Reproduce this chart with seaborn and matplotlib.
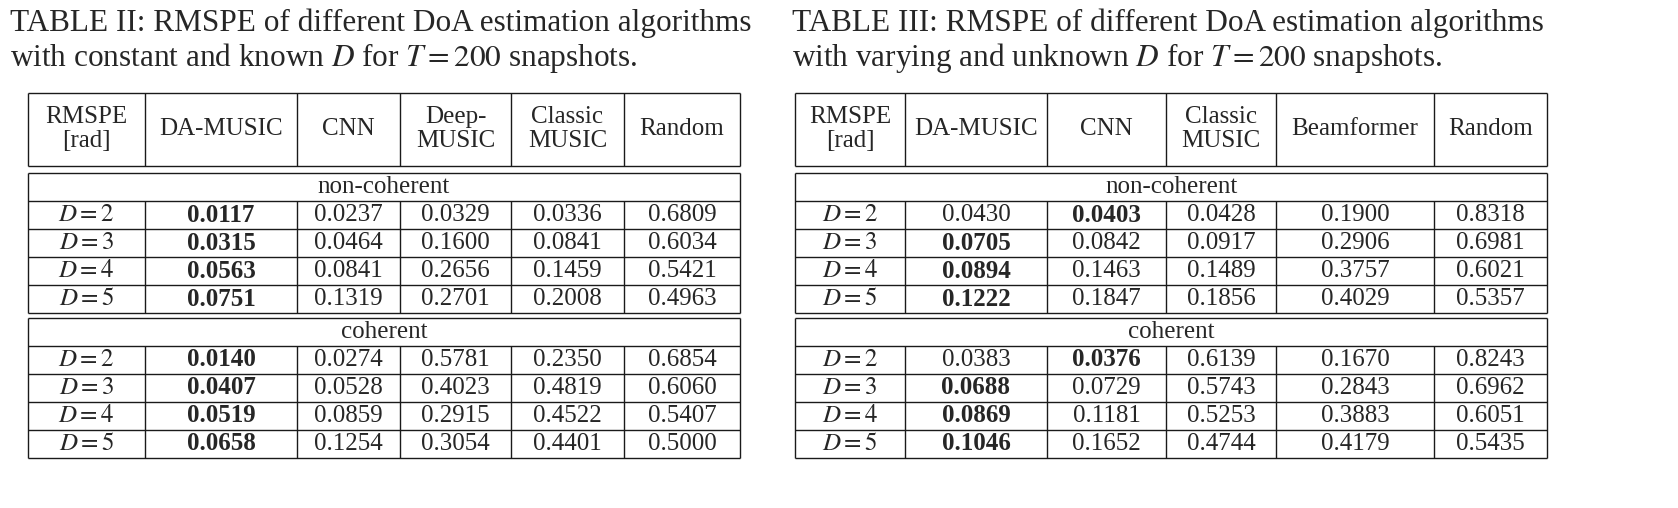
import numpy as np
import matplotlib.pyplot as plt
import seaborn as sns

sns.set_theme(style="white")
plt.rcParams['font.family'] = ['Liberation Serif', 'DejaVu Serif']
plt.rcParams['mathtext.fontset'] = 'stix'

d_values = [2, 3, 4, 5]

# table II
t2_title = ["TABLE II: RMSPE of different DoA estimation algorithms",
            "with constant and known $D$ for $T = 200$ snapshots."]
t2_cols = ["RMSPE\n[rad]", "DA-MUSIC", "CNN", "Deep-\nMUSIC", "Classic\nMUSIC", "Random"]
t2_noncoh = [[0.0117, 0.0237, 0.0329, 0.0336, 0.6809],
             [0.0315, 0.0464, 0.1600, 0.0841, 0.6034],
             [0.0563, 0.0841, 0.2656, 0.1459, 0.5421],
             [0.0751, 0.1319, 0.2701, 0.2008, 0.4963]]
t2_coh = [[0.0140, 0.0274, 0.5781, 0.2350, 0.6854],
          [0.0407, 0.0528, 0.4023, 0.4819, 0.6060],
          [0.0519, 0.0859, 0.2915, 0.4522, 0.5407],
          [0.0658, 0.1254, 0.3054, 0.4401, 0.5000]]

# table III
t3_title = ["TABLE III: RMSPE of different DoA estimation algorithms",
            "with varying and unknown $D$ for $T = 200$ snapshots."]
t3_cols = ["RMSPE\n[rad]", "DA-MUSIC", "CNN", "Classic\nMUSIC", "Beamformer", "Random"]
t3_noncoh = [[0.0430, 0.0403, 0.0428, 0.1900, 0.8318],
             [0.0705, 0.0842, 0.0917, 0.2906, 0.6981],
             [0.0894, 0.1463, 0.1489, 0.3757, 0.6021],
             [0.1222, 0.1847, 0.1856, 0.4029, 0.5357]]
t3_coh = [[0.0383, 0.0376, 0.6139, 0.1670, 0.8243],
          [0.0688, 0.0729, 0.5743, 0.2843, 0.6962],
          [0.0869, 0.1181, 0.5253, 0.3883, 0.6051],
          [0.1046, 0.1652, 0.4744, 0.4179, 0.5435]]

fig = plt.figure(figsize=(16.78, 5.08), dpi=100)
ax = fig.add_axes([0, 0, 1, 1])
ax.set_xlim(0, 1678)
ax.set_ylim(508, 0)
ax.axis('off')

FS = 18
LW = 1.0


def draw_table(title, cols, noncoh, coh, xs, tx):
    ax.text(tx, 23, title[0], fontsize=22.5, va='center', ha='left')
    ax.text(tx, 58, title[1], fontsize=22.5, va='center', ha='left')
    x0, x1 = xs[0], xs[-1]
    mids = [(xs[i] + xs[i + 1]) / 2 for i in range(len(xs) - 1)]
    # header
    ax.hlines([93, 166], x0, x1, color='k', lw=LW)
    ax.vlines(xs, 93, 166, color='k', lw=LW)
    for m, c in zip(mids, cols):
        ax.text(m, 129, c, fontsize=FS, ha='center', va='center', linespacing=1.1)
    # sections
    for top, name, rows in [(173, "non-coherent", noncoh), (318, "coherent", coh)]:
        rh = 28
        bottom = top + rh * 5
        ax.hlines([top, bottom], x0, x1, color='k', lw=LW)
        ax.hlines([top + rh * (i + 1) for i in range(4)], x0, x1, color='k', lw=LW)
        ax.vlines([x0, x1], top, bottom, color='k', lw=LW)
        ax.vlines(xs[1:-1], top + rh, bottom, color='k', lw=LW)
        ax.text((x0 + x1) / 2, top + rh / 2, name, fontsize=FS, ha='center', va='center')
        for i, (d, vals) in enumerate(zip(d_values, rows)):
            y = top + rh * (i + 1.5)
            ax.text(mids[0], y, f"$D = {d}$", fontsize=FS, ha='center', va='center')
            best = int(np.argmin(vals[:-1]))
            for j, v in enumerate(vals):
                ax.text(mids[j + 1], y, f"{v:.4f}", fontsize=FS, ha='center', va='center',
                        fontweight='bold' if j == best else 'normal')


draw_table(t2_title, t2_cols, t2_noncoh, t2_coh, [28, 145, 297, 400, 511, 624, 740], 10)
draw_table(t3_title, t3_cols, t3_noncoh, t3_coh, [795, 905, 1047, 1166, 1276, 1434, 1547], 792)

fig.savefig("out.png", dpi=100, facecolor='white')
